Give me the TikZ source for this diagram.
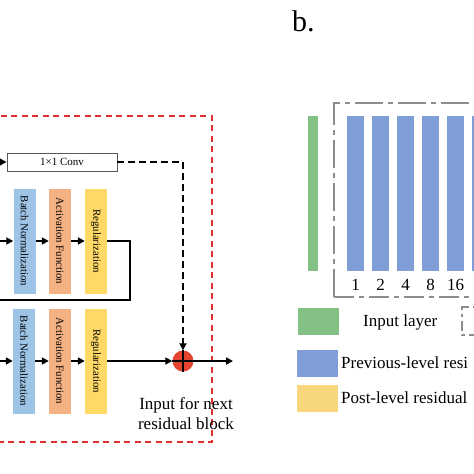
\documentclass[tikz,border=0pt]{standalone}
\usepackage{fontspec}
\setmainfont{Liberation Serif}
\usetikzlibrary{arrows.meta}
\definecolor{bnblue}{HTML}{9DC3E6}
\definecolor{aforange}{HTML}{F4B183}
\definecolor{regyellow}{HTML}{FFD966}
\definecolor{barblue}{HTML}{7F9ED6}
\definecolor{bargreen}{HTML}{82C084}
\definecolor{legyellow}{HTML}{F8D77C}
\definecolor{redline}{HTML}{E0302F}
\definecolor{sumred}{HTML}{E2452F}
\definecolor{graybox}{HTML}{8C8C8C}
\tikzset{
  vbox/.style={rotate=-90, minimum width=105, minimum height=22, inner sep=0,
    font=\fontsize{10.8}{12}\selectfont},
  flow/.style={line width=1.8pt, -{Triangle[length=7pt,width=7pt]}},
  plain/.style={line width=1.8pt},
  bar/.style={minimum width=17, minimum height=155, inner sep=0},
  legsq/.style={minimum width=41, minimum height=27, inner sep=0},
  legtxt/.style={anchor=west, inner sep=0, font=\fontsize{17}{20}\selectfont},
  numtxt/.style={inner sep=0, font=\fontsize{17}{20}\selectfont},
}
\begin{document}
\begin{tikzpicture}[x=1pt,y=-1pt]
\useasboundingbox (0,0) rectangle (474,474);
\clip (0,0) rectangle (474,474);
\fill[white] (0,0) rectangle (474,474);

% ---------- panel a ----------
\coordinate (rdTL) at (-10,116);
\coordinate (rdTR) at (212,116);
\coordinate (rdBR) at (212,442);
\coordinate (rdBL) at (-10,442);
\draw[redline, line width=2.6pt, dash pattern=on 6pt off 4.5pt] (rdTL) -- (rdTR) -- (rdBR) -- (rdBL);

\node[draw=black!65, line width=0.9pt, minimum width=110, minimum height=18, inner sep=0,
  font=\fontsize{11}{12}\selectfont] (conv) at (62,162) {1×1 Conv};

\node[vbox, fill=bnblue]   (bn1)  at (24.5,241) {Batch Normalization};
\node[vbox, fill=aforange] (af1)  at (60,241)   {Activation Function};
\node[vbox, fill=regyellow](reg1) at (96,241)   {Regularization};

\node[vbox, fill=bnblue]   (bn2)  at (24,361) {Batch Normalization};
\node[vbox, fill=aforange] (af2)  at (60,361) {Activation Function};
\node[vbox, fill=regyellow](reg2) at (96,361) {Regularization};

\coordinate (inConv) at (-10,162);
\coordinate (in1) at (-10,241);
\coordinate (in2) at (-10,361);
\coordinate (loopA) at (130,241);
\coordinate (loopB) at (130,300);
\coordinate (loopC) at (-10,300);
\coordinate (dashC) at (183,162);
\coordinate (outEnd) at (233,361);

\draw[flow] (inConv) -- (conv.west);
\draw[flow] (in1) -- (bn1);
\draw[flow] (bn1) -- (af1);
\draw[flow] (af1) -- (reg1);
\draw[plain] (reg1) -- (loopA) -- (loopB) -- (loopC);

\draw[flow] (in2) -- (bn2);
\draw[flow] (bn2) -- (af2);
\draw[flow] (af2) -- (reg2);

\node[circle, fill=sumred, minimum size=21, inner sep=0] (sum) at (183,361) {};
\draw[plain] (sum.north) -- (sum.south);
\draw[flow] (reg2) -- (sum.west);
\draw[flow] (sum.west) -- (outEnd);
\draw[line width=2pt, dash pattern=on 7pt off 4pt, -{Triangle[length=7pt,width=7pt]}]
  (conv.east) -- (dashC) -- (sum.north);

\node[align=center, inner sep=0, font=\fontsize{17}{20}\selectfont] (nextlbl) at (186,414)
  {Input for next\\residual block};

% ---------- panel b ----------
\node[anchor=base west, inner sep=0, font=\fontsize{30}{32}\selectfont] (blbl) at (292,31) {b.};

\draw[graybox, line width=1.6pt, dash pattern=on 28pt off 5pt on 5pt off 5pt]
  (334,297) -- (334,103) -- (620,103);
\draw[graybox, line width=1.6pt, dash pattern=on 20pt off 5pt on 5pt off 5pt]
  (334,297) -- (620,297);

\node[bar, fill=bargreen, minimum width=10] (inbar) at (313,193.5) {};
\foreach \k/\lab in {0/1,1/2,2/4,3/8,4/16}{
  \node[bar, fill=barblue] (bar\k) at (355.5+25*\k,193.5) {};
  \node[numtxt] (num\k) at (355.5+25*\k,285) {\lab};
}
\node[bar, fill=barblue] (bar5) at (480.5,193.5) {};

\node[legsq, fill=bargreen] (lg1) at (318.5,321.5) {};
\node[legtxt] (lt1) at (363,322) {Input layer};
\draw[graybox, line width=1.6pt, dash pattern=on 10pt off 4pt on 3pt off 4pt]
  (490,307) -- (462,307) -- (462,335) -- (490,335);

\node[legsq, fill=barblue] (lg2) at (317.5,363.5) {};
\node[legtxt] (lt2) at (341,363) {Previous-level resi};

\node[legsq, fill=legyellow] (lg3) at (317.5,398.5) {};
\node[legtxt] (lt3) at (341,398) {Post-level residual};
\end{tikzpicture}
\end{document}
